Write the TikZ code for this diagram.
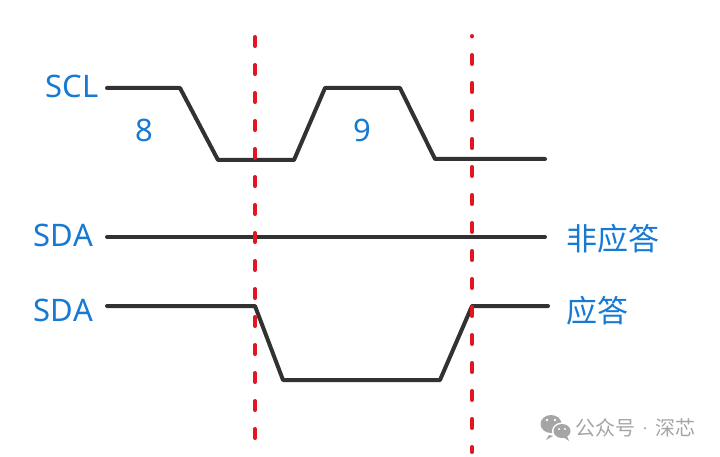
\documentclass[tikz,border=0pt]{standalone}
\usepackage{fontspec}
\setmainfont{Noto Sans CJK SC}
\newfontfamily\latinf{Noto Sans}
\definecolor{blueT}{RGB}{22,122,212}
\definecolor{sigcol}{RGB}{50,50,50}
\definecolor{redL}{RGB}{226,22,32}
\definecolor{wmgray}{RGB}{165,165,165}
\tikzset{
  sig/.style={draw=sigcol, line width=4pt, line join=round, line cap=round},
  redline/.style={draw=redL, line width=4pt, line cap=round, dash pattern=on 9pt off 19pt},
  lbl/.style={text=blueT, inner sep=0pt, font=\fontsize{31}{31}\selectfont},
  lat/.style={lbl, font=\latinf\fontsize{31}{31}\selectfont},
  wm/.style={text=wmgray, inner sep=0pt, font=\fontsize{20}{20}\selectfont}
}
\begin{document}
\begin{tikzpicture}[x=1pt,y=-1pt]
\useasboundingbox[fill=white] (0,0) rectangle (720,457);
% labels
\node[lat, anchor=base east] (scl) at (99,98) {SCL};
\node[lat, anchor=base east] (sda1) at (93,247) {SDA};
\node[lat, anchor=base east] (sda2) at (93,321) {SDA};
\node[lat, anchor=base] (n8) at (144,142) {8};
\node[lat, anchor=base] (n9) at (362,142) {9};
\node[lbl, anchor=west] (nack) at (566,239) {非应答};
\node[lbl, anchor=west] (ack) at (566,311) {应答};
% waveforms
\draw[sig] (107,88) -- (180,88) -- (218,160) -- (294,160) -- (325,88) -- (400,88) -- (435,159) -- (545,159);
\draw[sig] (107,237) -- (545,237);
\draw[sig] (107,306) -- (255,306) -- (283,380) -- (440,380) -- (472,306) -- (548,306);
% red dashed markers
\draw[redline] (255,37) -- (255,452);
\draw[draw=redL, line width=4pt, line cap=round] (472,36) -- (472,36.5);
\draw[redline] (472,55) -- (472,452);
% watermark
\begin{scope}
\fill[wmgray] (551,424) ellipse (10.5 and 9);
\fill[wmgray] (549,435) -- (546,440) -- (553,436) -- cycle;
\fill[white] (562,431) ellipse (10 and 8.5);
\fill[wmgray] (562,431) ellipse (8.5 and 7);
\fill[wmgray] (567,436) -- (569,441) -- (563,437) -- cycle;
\fill[white] (547,420) circle (1.3);
\fill[white] (555,420) circle (1.3);
\fill[white] (559,429) circle (1.1);
\fill[white] (565,429) circle (1.1);
\end{scope}
\node[wm, anchor=west] (wmtext) at (575,428) {公众号\hspace{5pt}\raisebox{0.3ex}{\scalebox{0.5}{·}}\hspace{5pt}深芯};
\end{tikzpicture}
\end{document}
